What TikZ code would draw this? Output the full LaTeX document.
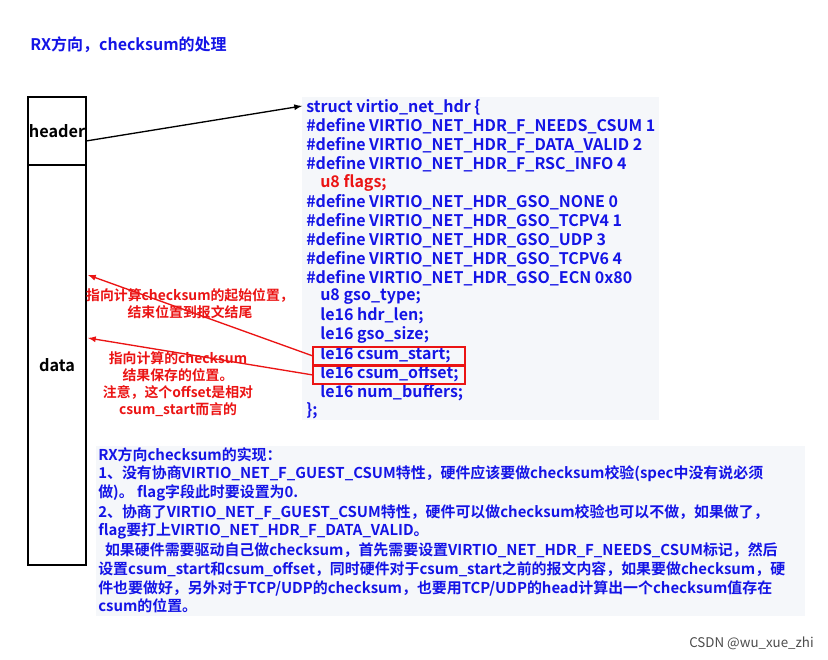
\documentclass[tikz,border=0pt]{standalone}
\usepackage{fontspec}
\setmainfont{Noto Sans CJK SC}[BoldFont={Noto Sans CJK SC Bold}]
\begin{document}
\begin{tikzpicture}[x=0.75pt,y=-0.75pt]
\definecolor{tblue}{RGB}{20,20,230}
\definecolor{tred}{RGB}{235,20,20}
\definecolor{codebg}{RGB}{245,247,250}
\tikzset{
 code/.style={anchor=west,inner sep=0pt,text=tblue,font=\fontsize{12pt}{14pt}\bfseries},
 note/.style={anchor=west,inner sep=0pt,text=tblue,font=\fontsize{11.2pt}{13pt}\bfseries},
 rnote/.style={inner sep=0pt,text=tred,font=\fontsize{10.4pt}{12.6pt}\bfseries,align=center},
 cell/.style={draw=black,line width=1pt,minimum width=58*0.75pt,inner sep=0pt,font=\fontsize{12.2pt}{13pt}\bfseries},
}
\useasboundingbox (0,0) rectangle (828,660);
\fill[white] (0,0) rectangle (828,660);
\node[anchor=west,inner sep=0pt,text=tblue,font=\fontsize{12pt}{13pt}\bfseries] (title) at (30,45) {RX方向，checksum的处理};
% memory boxes
\node[cell,minimum height=68*0.75pt] (hdr) at (57,131) {header};
\node[cell,minimum height=400*0.75pt] (data) at (57,365) {data};
% code block
\fill[codebg] (302,97) rectangle (659,420);
\node[code] (c1) at (306,107) {struct virtio\_net\_hdr \{};
\node[code] (c2) at (306,126) {\#define VIRTIO\_NET\_HDR\_F\_NEEDS\_CSUM 1};
\node[code] (c3) at (306,145) {\#define VIRTIO\_NET\_HDR\_F\_DATA\_VALID 2};
\node[code] (c4) at (306,164) {\#define VIRTIO\_NET\_HDR\_F\_RSC\_INFO 4};
\node[code,text=tred] (c5) at (320,183) {u8 flags;};
\node[code] (c6) at (306,202) {\#define VIRTIO\_NET\_HDR\_GSO\_NONE 0};
\node[code] (c7) at (306,221) {\#define VIRTIO\_NET\_HDR\_GSO\_TCPV4 1};
\node[code] (c8) at (306,240) {\#define VIRTIO\_NET\_HDR\_GSO\_UDP 3};
\node[code] (c9) at (306,259) {\#define VIRTIO\_NET\_HDR\_GSO\_TCPV6 4};
\node[code] (c10) at (306,278) {\#define VIRTIO\_NET\_HDR\_GSO\_ECN 0x80};
\node[code] (c11) at (320,297) {u8 gso\_type;};
\node[code] (c12) at (320,316) {le16 hdr\_len;};
\node[code] (c13) at (320,335) {le16 gso\_size;};
\node[code] (c14) at (320,355) {le16 csum\_start;};
\node[code] (c15) at (320,374) {le16 csum\_offset;};
\node[code] (c16) at (320,393) {le16 num\_buffers;};
\node[code] (c17) at (306,411) {\};};
\draw[tred,line width=1pt] (313,347) rectangle (465,365);
\draw[tred,line width=1pt] (313,366) rectangle (465,384);
\coordinate (s1) at (313,356);
\coordinate (s2) at (313,375);
\coordinate (d1) at (88,275);
\coordinate (d2) at (88,338);
\coordinate (hs) at (86,141);
\coordinate (ce) at (302,106);
\draw[-latex,line width=1pt] (hs) -- (ce);
\draw[-latex,tred,line width=1pt] (s1) -- (d1);
\draw[-latex,tred,line width=1pt] (s2) -- (d2);
\node[rnote] (r1) at (190,304) {指向计算checksum的起始位置，\\结束位置到报文结尾};
\node[rnote] (r2) at (178,384) {指向计算的checksum\\结果保存的位置。\\注意，这个offset是相对\\csum\_start而言的};
% bottom notes
\fill[codebg] (96,446) rectangle (805,616);
\node[note] (n1) at (98,455) {RX方向checksum的实现：};
\node[note] (n2) at (98,474) {1、没有协商VIRTIO\_NET\_F\_GUEST\_CSUM特性，硬件应该要做checksum校验(spec中没有说必须};
\node[note] (n3) at (98,493) {做)。 flag字段此时要设置为0.};
\node[note] (n4) at (98,512) {2、协商了VIRTIO\_NET\_F\_GUEST\_CSUM特性，硬件可以做checksum校验也可以不做，如果做了，};
\node[note] (n5) at (98,531) {flag要打上VIRTIO\_NET\_HDR\_F\_DATA\_VALID。};
\node[note] (n6) at (98,550) {\ \ 如果硬件需要驱动自己做checksum，首先需要设置VIRTIO\_NET\_HDR\_F\_NEEDS\_CSUM标记，然后};
\node[note] (n7) at (98,569) {设置csum\_start和csum\_offset，同时硬件对于csum\_start之前的报文内容，如果要做checksum，硬};
\node[note] (n8) at (98,588) {件也要做好，另外对于TCP/UDP的checksum，也要用TCP/UDP的head计算出一个checksum值存在};
\node[note] (n9) at (98,606) {csum的位置。};
\node[anchor=east,inner sep=0pt,text=black!70,font=\fontsize{9pt}{10pt}] (wm) at (814,643) {CSDN @wu\_xue\_zhi};
\end{tikzpicture}
\end{document}
